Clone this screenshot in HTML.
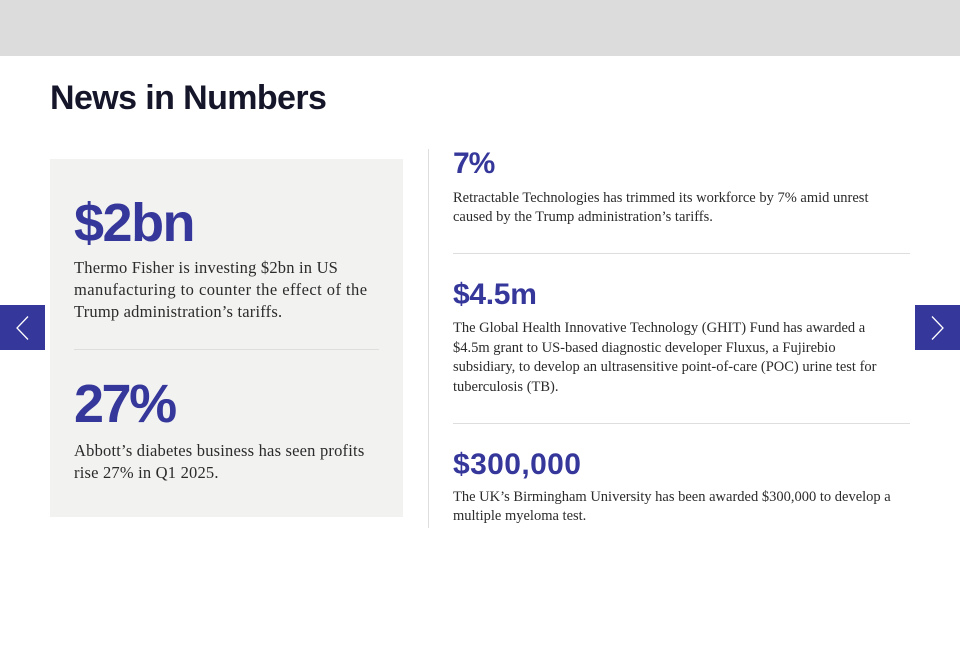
<!DOCTYPE html>
<html>
<head>
<meta charset="utf-8">
<style>
  html, body { margin:0; padding:0; }
  body { width:960px; height:655px; position:relative; background:#fff; overflow:hidden; }
  .topbar { position:absolute; left:0; top:0; width:960px; height:56px; background:#dcdcdc; }
  .abs { position:absolute; white-space:nowrap; }
  .title { left:50px; top:78px; font-family:"Liberation Sans", sans-serif; font-weight:bold; font-size:34px; line-height:40px; letter-spacing:-0.6px; color:#16162a; }
  .box { position:absolute; left:50px; top:159px; width:353px; height:358px; background:#f2f2f1; }
  .big { font-family:"Liberation Sans", sans-serif; font-weight:bold; font-size:54px; line-height:60px; letter-spacing:-1.5px; color:#35379a; }
  .mid { font-family:"Liberation Sans", sans-serif; font-weight:bold; font-size:30px; line-height:34px; letter-spacing:-0.3px; color:#35379a; }
  .pl { font-family:"Liberation Serif", serif; font-size:16.5px; line-height:22px; letter-spacing:0.2px; color:#2b2b2b; }
  .pr { font-family:"Liberation Serif", serif; font-size:14.5px; line-height:19.5px; color:#2b2b2b; }
  .hr { position:absolute; height:1px; background:#dedede; }
  .vr { position:absolute; left:428px; top:149px; width:1px; height:379px; background:#dedede; }
  .btn { position:absolute; top:305px; width:45px; height:45px; background:#35379a; }
</style>
</head>
<body>
<div class="topbar"></div>
<div class="abs title">News in Numbers</div>

<div class="box"></div>
<div class="abs big" style="left:74px; top:193px;">$2bn</div>
<div class="abs pl" style="left:74px; top:256.5px;">Thermo Fisher is investing $2bn in US<br><span style="letter-spacing:0.45px">manufacturing to counter the effect of the</span><br>Trump administration’s tariffs.</div>
<div class="hr" style="left:74px; top:349px; width:305px;"></div>
<div class="abs big" style="left:74px; top:374px; letter-spacing:-2.5px;">27%</div>
<div class="abs pl" style="left:74px; top:439.5px;">Abbott’s diabetes business has seen profits<br>rise 27% in Q1 2025.</div>

<div class="vr"></div>

<div class="abs mid" style="left:453px; top:146.5px; letter-spacing:-1px;">7%</div>
<div class="abs pr" style="left:453px; top:188.5px;">Retractable Technologies has trimmed its workforce by 7% amid unrest<br>caused by the Trump administration’s tariffs.</div>
<div class="hr" style="left:453px; top:253px; width:457px;"></div>

<div class="abs mid" style="left:453px; top:277.5px;">$4.5m</div>
<div class="abs pr" style="left:453px; top:319px;">The Global Health Innovative Technology (GHIT) Fund has awarded a<br>$4.5m grant to US-based diagnostic developer Fluxus, a Fujirebio<br>subsidiary, to develop an ultrasensitive point-of-care (POC) urine test for<br>tuberculosis (TB).</div>
<div class="hr" style="left:453px; top:423px; width:457px;"></div>

<div class="abs mid" style="left:453px; top:447.5px; letter-spacing:0.4px;">$300,000</div>
<div class="abs pr" style="left:453px; top:487.5px;">The UK’s Birmingham University has been awarded $300,000 to develop a<br>multiple myeloma test.</div>

<div class="btn" style="left:0;">
  <svg width="45" height="45" viewBox="0 0 45 45"><polyline points="28,11.5 17,23 28,34.5" fill="none" stroke="#ffffff" stroke-width="1.3"/></svg>
</div>
<div class="btn" style="left:915px;">
  <svg width="45" height="45" viewBox="0 0 45 45"><polyline points="17,11.5 28,23 17,34.5" fill="none" stroke="#ffffff" stroke-width="1.3"/></svg>
</div>
</body>
</html>
